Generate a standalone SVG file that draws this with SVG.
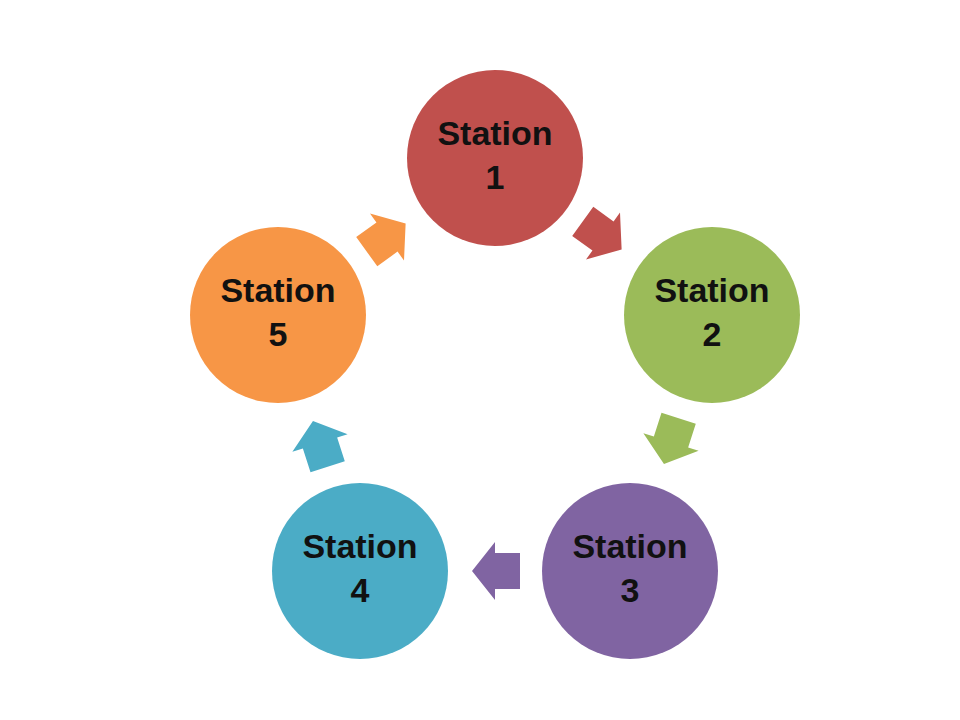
<svg xmlns="http://www.w3.org/2000/svg" width="960" height="720" viewBox="0 0 960 720">
<defs>
<style>
.lbl{font-family:"Liberation Sans",Arial,sans-serif;font-weight:bold;font-size:34px;fill:#111;text-anchor:middle}
</style>
<path id="arr" d="M -25,-18 L 0,-18 L 0,-29 L 23,0 L 0,29 L 0,18 L -25,18 Z"/>
</defs>
<rect width="960" height="720" fill="#fff"/>
<g id="connectors">
<use href="#arr" fill="#C0504D" transform="translate(603,236) rotate(35.9)"/>
<use href="#arr" fill="#9BBB59" transform="translate(671,442) rotate(107.8)"/>
<use href="#arr" fill="#8064A2" transform="translate(495,571) rotate(180)"/>
<use href="#arr" fill="#4BACC6" transform="translate(320,443) rotate(-107.8)"/>
<use href="#arr" fill="#F79646" transform="translate(387,237) rotate(-35.9)"/>
</g>
<g id="station1">
<circle cx="495" cy="158" r="88" fill="#C0504D"/>
<text class="lbl" x="495" y="145">Station</text>
<text class="lbl" x="495" y="189">1</text>
</g>
<g id="station2">
<circle cx="712" cy="315" r="88" fill="#9BBB59"/>
<text class="lbl" x="712" y="302">Station</text>
<text class="lbl" x="712" y="346">2</text>
</g>
<g id="station3">
<circle cx="630" cy="571" r="88" fill="#8064A2"/>
<text class="lbl" x="630" y="558">Station</text>
<text class="lbl" x="630" y="602">3</text>
</g>
<g id="station4">
<circle cx="360" cy="571" r="88" fill="#4BACC6"/>
<text class="lbl" x="360" y="558">Station</text>
<text class="lbl" x="360" y="602">4</text>
</g>
<g id="station5">
<circle cx="278" cy="315" r="88" fill="#F79646"/>
<text class="lbl" x="278" y="302">Station</text>
<text class="lbl" x="278" y="346">5</text>
</g>
</svg>
